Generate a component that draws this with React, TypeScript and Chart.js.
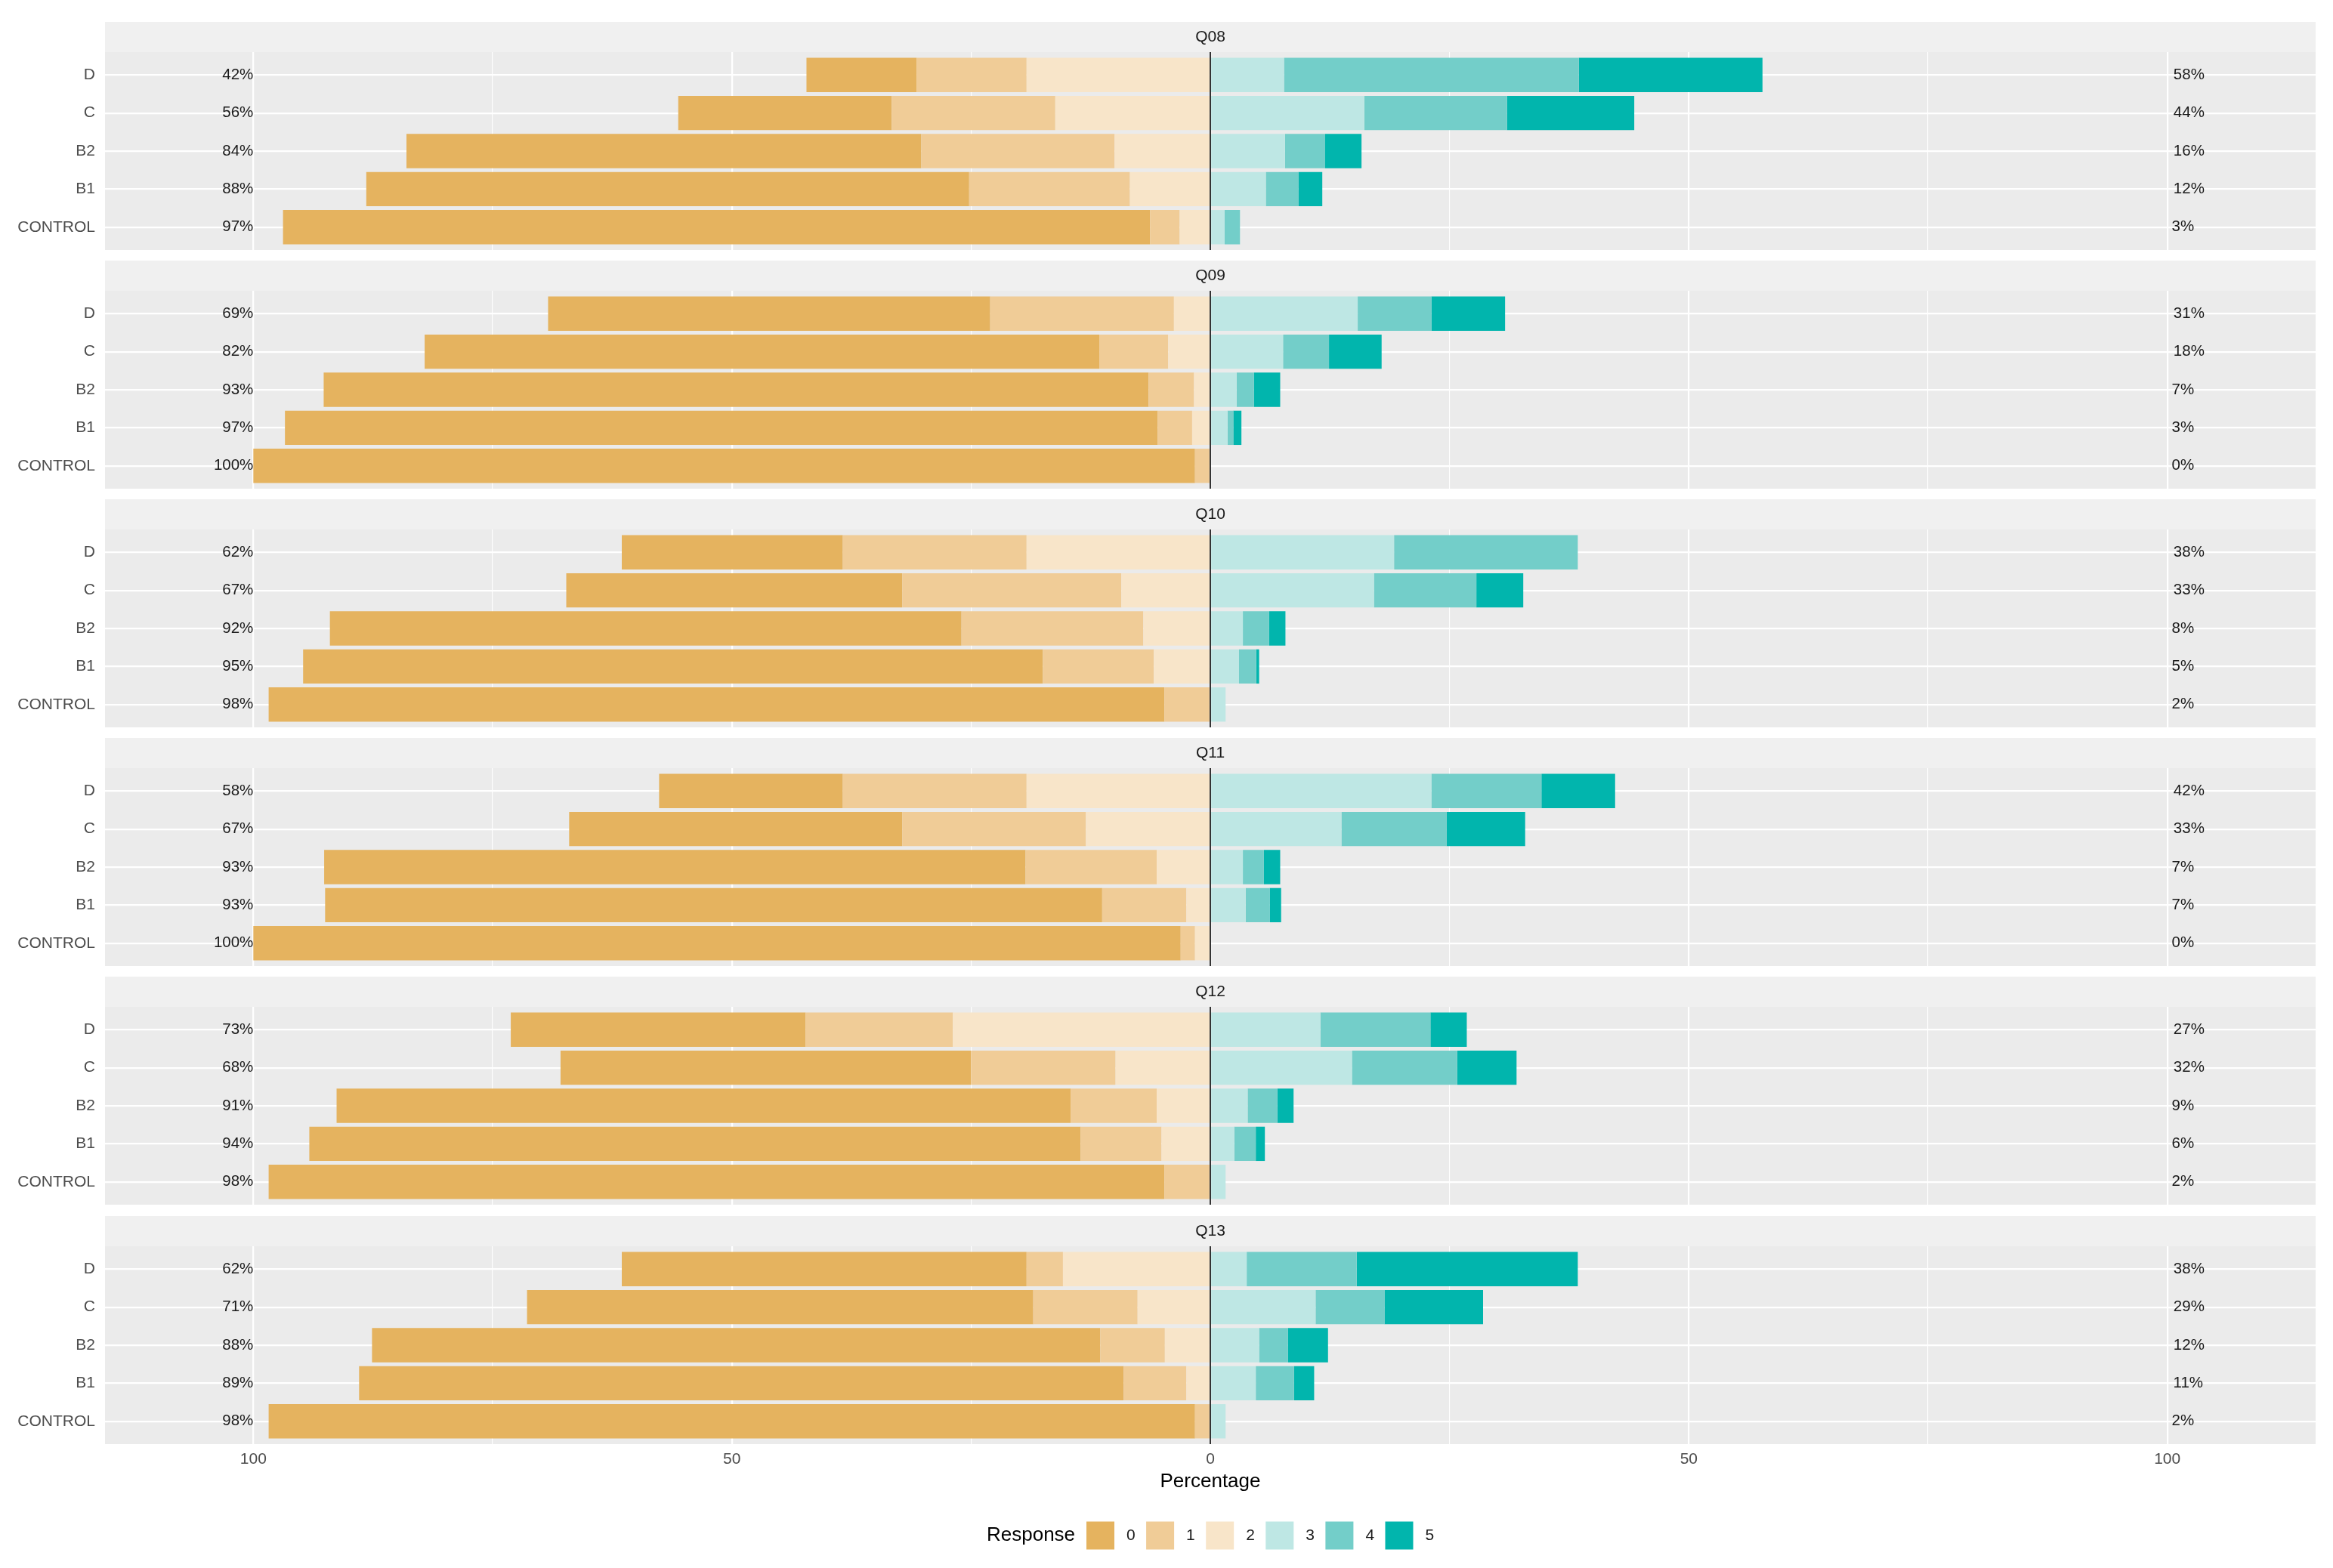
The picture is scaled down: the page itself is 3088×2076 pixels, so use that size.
import React, { useEffect, useRef } from "react";
import { Chart, registerables } from "chart.js";

Chart.register(...registerables);

// ---------- data ----------
const categories = ["D", "C", "B2", "B1", "CONTROL"];
const responses = ["0", "1", "2", "3", "4", "5"];
const responseColors = ["#E5B35F", "#F0CC97", "#F8E5C9", "#BEE7E4", "#73CEC9", "#01B5AD"];
const questions = ["Q08", "Q09", "Q10", "Q11", "Q12", "Q13"];
const xTickValues = [-100, -75, -50, -25, 0, 25, 50, 75, 100];

// rows: D, C, B2, B1, CONTROL ; columns: % answering 0,1,2,3,4,5
const q08 = [
  [11.5, 11.5, 19.2, 7.7, 30.8, 19.2],
  [22.3, 17.1, 16.2, 16.1, 14.9, 13.3],
  [53.8, 20.2, 10.0, 7.8, 4.2, 3.8],
  [63.0, 16.8, 8.4, 5.8, 3.4, 2.5],
  [90.6, 3.1, 3.2, 1.5, 1.6, 0],
];
const q09 = [
  [46.2, 19.2, 3.8, 15.4, 7.7, 7.7],
  [70.5, 7.2, 4.4, 7.6, 4.8, 5.5],
  [86.2, 4.75, 1.7, 2.75, 1.8, 2.75],
  [91.2, 3.6, 1.9, 1.8, 0.6, 0.85],
  [98.4, 1.6, 0, 0, 0, 0],
];
const q10 = [
  [23.1, 19.2, 19.2, 19.2, 19.2, 0],
  [35.1, 22.9, 9.3, 17.1, 10.7, 4.9],
  [66.0, 19.0, 7.0, 3.4, 2.75, 1.7],
  [77.3, 11.6, 5.9, 3.0, 1.8, 0.3],
  [93.6, 4.8, 0, 1.6, 0, 0],
];
const q11 = [
  [19.2, 19.2, 19.2, 23.1, 11.5, 7.7],
  [34.8, 19.2, 13.0, 13.7, 11.0, 8.2],
  [73.3, 13.7, 5.6, 3.4, 2.2, 1.7],
  [81.2, 8.8, 2.5, 3.7, 2.5, 1.2],
  [96.9, 1.5, 1.6, 0, 0, 0],
];
const q12 = [
  [30.8, 15.4, 26.9, 11.5, 11.5, 3.8],
  [42.9, 15.1, 9.9, 14.8, 11.0, 6.2],
  [76.7, 9.0, 5.6, 3.9, 3.1, 1.7],
  [80.6, 8.45, 5.1, 2.5, 2.25, 0.95],
  [93.6, 4.8, 0, 1.6, 0, 0],
];
const q13 = [
  [42.3, 3.8, 15.4, 3.8, 11.5, 23.1],
  [52.9, 10.9, 7.6, 11.0, 7.2, 10.3],
  [76.1, 6.75, 4.75, 5.1, 3.0, 4.2],
  [79.9, 6.55, 2.5, 4.75, 4.0, 2.1],
  [96.8, 1.6, 0, 1.6, 0, 0],
];

// summary labels (low = 0-2, high = 3-5), rows D, C, B2, B1, CONTROL
const q08Low = [42, 56, 84, 88, 97];
const q08High = [58, 44, 16, 12, 3];
const q09Low = [69, 82, 93, 97, 100];
const q09High = [31, 18, 7, 3, 0];
const q10Low = [62, 67, 92, 95, 98];
const q10High = [38, 33, 8, 5, 2];
const q11Low = [58, 67, 93, 93, 100];
const q11High = [42, 33, 7, 7, 0];
const q12Low = [73, 68, 91, 94, 98];
const q12High = [27, 32, 9, 6, 2];
const q13Low = [62, 71, 88, 89, 98];
const q13High = [38, 29, 12, 11, 2];

const questionData = [q08, q09, q10, q11, q12, q13];
const lowLabels = [q08Low, q09Low, q10Low, q11Low, q12Low, q13Low];
const highLabels = [q08High, q09High, q10High, q11High, q12High, q13High];

// ---------- layout ----------
const W = 3088;
const H = 2076;
const FONT = "'Liberation Sans', Arial, Helvetica, sans-serif";
const STRIP_H = 40;
const PANEL_H = 262;
const FIRST_TOP = 29;
const FACET_STEP = 316.1;
const PANEL_LEFT = 139;
const PANEL_RIGHT = 3065;

const facetPlugin = {
  id: "facet",
  beforeDraw(chart: any, _args: any, opts: any) {
    const { ctx, chartArea: a } = chart;
    ctx.save();
    ctx.fillStyle = "#F0F0F0";
    ctx.fillRect(a.left, a.top - STRIP_H, a.right - a.left, STRIP_H);
    ctx.fillStyle = "#EBEBEB";
    ctx.fillRect(a.left, a.top, a.right - a.left, a.bottom - a.top);
    ctx.fillStyle = "#1A1A1A";
    ctx.font = `21px ${FONT}`;
    ctx.textAlign = "center";
    ctx.textBaseline = "middle";
    ctx.fillText(opts.title, (a.left + a.right) / 2, a.top - STRIP_H / 2);
    ctx.restore();
  },
  beforeDatasetsDraw(chart: any) {
    const { ctx, chartArea: a } = chart;
    const x0 = chart.scales.x.getPixelForValue(0);
    ctx.save();
    ctx.strokeStyle = "#000000";
    ctx.lineWidth = 1.6;
    ctx.beginPath();
    ctx.moveTo(x0, a.top);
    ctx.lineTo(x0, a.bottom);
    ctx.stroke();
    ctx.restore();
  },
  afterDatasetsDraw(chart: any, _args: any, opts: any) {
    const { ctx } = chart;
    const xs = chart.scales.x;
    const ys = chart.scales.y;
    ctx.save();
    ctx.font = `20.5px ${FONT}`;
    ctx.fillStyle = "#1A1A1A";
    ctx.textBaseline = "middle";
    categories.forEach((_c, ci) => {
      const y = ys.getPixelForValue(categories.length - ci);
      ctx.textAlign = "right";
      ctx.fillText(`${opts.low[ci]}%`, xs.getPixelForValue(-100), y);
      const t = `${opts.high[ci]}%`;
      const w = ctx.measureText(t).width;
      ctx.textAlign = "left";
      ctx.fillText(t, xs.getPixelForValue(100) + 0.2 * w, y);
    });
    ctx.restore();
  },
  afterDraw(chart: any, _args: any, opts: any) {
    if (!opts.isLast) return;
    const { ctx, chartArea: a } = chart;
    ctx.save();
    ctx.fillStyle = "#000000";
    ctx.font = `26px ${FONT}`;
    ctx.textAlign = "center";
    ctx.textBaseline = "middle";
    ctx.fillText("Percentage", (a.left + a.right) / 2, a.bottom + 50);
    // legend
    const cy = a.bottom + 121;
    ctx.textAlign = "left";
    ctx.fillText("Response", 1306, cy);
    const keySize = 37;
    responses.forEach((r, i) => {
      const kx = 1438 + i * 79.1;
      ctx.fillStyle = responseColors[i];
      ctx.fillRect(kx, cy - 18.5, keySize, keySize);
      ctx.fillStyle = "#1A1A1A";
      ctx.font = `21px ${FONT}`;
      ctx.fillText(r, kx + keySize + 16, cy);
    });
    ctx.restore();
  },
};

function Facet({ index }: { index: number }) {
  const ref = useRef<HTMLCanvasElement | null>(null);
  const isLast = index === questions.length - 1;
  const top = Math.round(FIRST_TOP + FACET_STEP * index);
  const height = isLast ? H - top : STRIP_H + PANEL_H;

  useEffect(() => {
    if (!ref.current) return;
    const rows = questionData[index];
    const order = [2, 1, 0, 3, 4, 5];
    const datasets = order.map((r) => ({
      label: responses[r],
      data: categories.map((_c, ci) => ({
        x: r < 3 ? -rows[ci][r] : rows[ci][r],
        y: categories.length - ci,
      })),
      backgroundColor: responseColors[r],
      borderWidth: 0,
      barPercentage: 0.9,
      categoryPercentage: 1,
      stack: "s",
    }));

    const chart = new Chart(ref.current, {
      type: "bar",
      data: { datasets },
      plugins: [facetPlugin],
      options: {
        indexAxis: "y",
        animation: false,
        responsive: false,
        devicePixelRatio: 1,
        layout: { padding: { top: STRIP_H, right: W - PANEL_RIGHT, left: 0, bottom: 0 } },
        plugins: {
          legend: { display: false },
          tooltip: { enabled: false },
          facet: {
            title: questions[index],
            low: lowLabels[index],
            high: highLabels[index],
            isLast,
          },
        } as any,
        scales: {
          x: {
            type: "linear",
            stacked: true,
            offset: false,
            min: -115.5,
            max: 115.5,
            afterBuildTicks: (s: any) => {
              s.ticks = xTickValues.map((v) => ({ value: v }));
            },
            afterFit: (s: any) => {
              s.height = isLast ? height - STRIP_H - PANEL_H : 0;
              s.paddingLeft = 0;
              s.paddingRight = 0;
              s.paddingTop = 0;
              s.paddingBottom = 0;
            },
            border: { display: false },
            grid: {
              offset: false,
              color: "#FFFFFF",
              drawTicks: false,
              lineWidth: (c: any) => (c.tick && c.tick.value % 50 === 0 ? 2.2 : 1.1),
            },
            ticks: {
              display: isLast,
              padding: 8,
              autoSkip: false,
              maxRotation: 0,
              color: "#4D4D4D",
              font: { family: FONT, size: 21 },
              callback: (v: any) => (Number(v) % 50 === 0 ? String(Math.abs(Number(v))) : ""),
            },
          },
          y: {
            type: "linear",
            stacked: true,
            offset: false,
            min: 0.4,
            max: 5.6,
            afterBuildTicks: (s: any) => {
              s.ticks = categories.map((_c, i) => ({ value: i + 1 }));
            },
            afterFit: (s: any) => {
              s.width = PANEL_LEFT;
              s.paddingLeft = 0;
              s.paddingRight = 0;
              s.paddingTop = 0;
              s.paddingBottom = 0;
            },
            border: { display: false },
            grid: { offset: false, color: "#FFFFFF", lineWidth: 2.2, drawTicks: false },
            ticks: {
              padding: 13,
              autoSkip: false,
              color: "#4D4D4D",
              font: { family: FONT, size: 21 },
              callback: (v: any) => categories[categories.length - Number(v)] ?? "",
            },
          },
        },
      } as any,
    });
    return () => chart.destroy();
  }, [index]);

  return (
    <canvas
      ref={ref}
      width={W}
      height={height}
      style={{ position: "absolute", left: 0, top, width: W, height, display: "block" }}
    />
  );
}

export default function App() {
  useEffect(() => {
    document.body.style.margin = "0";
    document.body.style.overflow = "hidden";
  }, []);
  return (
    <div style={{ position: "absolute", left: 0, top: 0, width: W, height: H, background: "#FFFFFF", overflow: "hidden" }}>
      {questions.map((q, i) => (
        <Facet key={q} index={i} />
      ))}
    </div>
  );
}
